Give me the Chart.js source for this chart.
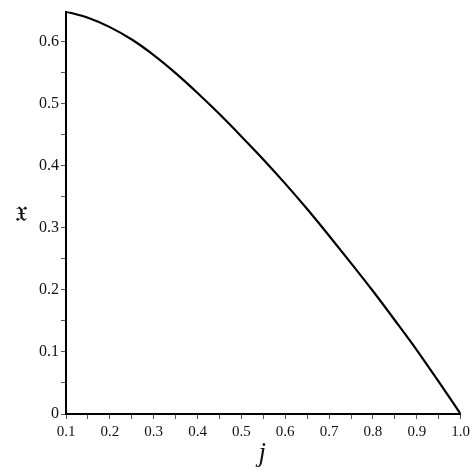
<!DOCTYPE html>
<html>
<head>
<meta charset="utf-8">
<script src="https://cdn.jsdelivr.net/npm/chart.js@4"></script>
<style>
  html, body { margin: 0; padding: 0; background: #fff; }
  #wrap { width: 474px; height: 474px; }
</style>
</head>
<body>
<div id="wrap"><canvas id="myChart"></canvas></div>
<script>
// values
const jValues = [0.1, 0.15, 0.2, 0.25, 0.3, 0.35, 0.4, 0.45, 0.5, 0.55, 0.6, 0.65, 0.7, 0.75, 0.8, 0.85, 0.9, 0.95, 1.0];
const xValues = [0.648, 0.638, 0.623, 0.603, 0.578, 0.549, 0.517, 0.483, 0.447, 0.410, 0.371, 0.330, 0.287, 0.243, 0.198, 0.151, 0.103, 0.052, 0.0];
const xTitle = "j";
const yTitle = "\u{1D535}";

const serif = "'Liberation Serif', 'DejaVu Serif', serif";

// draws the two axis titles upright, like the original
const titlePlugin = {
  id: "titles",
  afterDraw(chart) {
    const ctx = chart.ctx;
    const area = chart.chartArea;
    ctx.save();
    ctx.fillStyle = "#111";
    ctx.textAlign = "center";
    ctx.textBaseline = "alphabetic";
    ctx.font = "italic 27px " + serif;
    ctx.fillText(xTitle, (area.left + area.right) / 2 - 1, 461);
    ctx.font = "32px 'DejaVu Sans', 'DejaVu Serif', serif";
    ctx.textBaseline = "middle";
    ctx.fillText(yTitle, 21, 213);
    ctx.restore();
  },
};

function isMajor(v) {
  return Math.round(v * 100) % 10 === 0;
}

const cxx = document.getElementById("myChart").getContext("2d");
new Chart(cxx, {
  type: "line",
  data: {
    datasets: [
      {
        data: jValues.map((j, i) => ({ x: j, y: xValues[i] })),
        borderColor: "#000",
        borderWidth: 2.2,
        pointRadius: 0,
        cubicInterpolationMode: "monotone",
        fill: false,
      },
    ],
  },
  options: {
    responsive: true,
    maintainAspectRatio: false,
    animation: false,
    layout: { padding: { top: 9, right: 13, left: 0, bottom: 0 } },
    plugins: { legend: { display: false }, tooltip: { enabled: false } },
    scales: {
      x: {
        type: "linear",
        min: 0.1,
        max: 1.0,
        afterFit(scale) { scale.height = 60; },
        border: { color: "#000", width: 2 },
        grid: { drawOnChartArea: false, tickLength: 5, color: "#555", tickWidth: 1 },
        ticks: {
          stepSize: 0.05,
          autoSkip: false,
          maxRotation: 0,
          padding: 4,
          color: "#111",
          font: { family: serif, size: 15 },
          callback: (v) => (isMajor(v) ? v.toFixed(1) : ""),
        },
      },
      y: {
        min: 0,
        max: 0.648,
        afterFit(scale) { scale.width = 66; },
        border: { color: "#000", width: 2 },
        grid: { drawOnChartArea: false, tickLength: 5, color: "#555", tickWidth: 1 },
        ticks: {
          stepSize: 0.05,
          includeBounds: false,
          autoSkip: false,
          padding: 2,
          color: "#111",
          font: { family: serif, size: 16 },
          callback: (v) => (isMajor(v) ? (v === 0 ? "0" : v.toFixed(1)) : ""),
        },
      },
    },
  },
  plugins: [titlePlugin],
});
</script>
</body>
</html>
